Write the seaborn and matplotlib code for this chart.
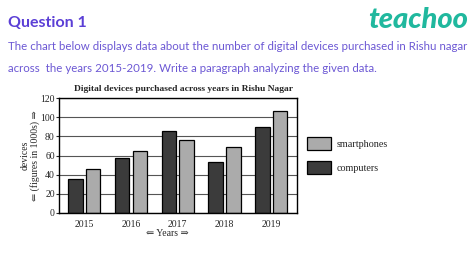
import numpy as np
import pandas as pd
import matplotlib.pyplot as plt
import seaborn as sns

# --- Data (in 1000s) ---
YEARS = ["2015", "2016", "2017", "2018", "2019"]
COMPUTERS = [36, 57, 86, 53, 90]
SMARTPHONES = [46, 65, 76, 69, 106]
Y_TICKS = [0, 20, 40, 60, 80, 100, 120]

df = pd.DataFrame({
    "year": YEARS * 2,
    "devices": COMPUTERS + SMARTPHONES,
    "device": ["computers"] * len(YEARS) + ["smartphones"] * len(YEARS),
})

sns.set_style("white")
SERIF = ["Liberation Serif", "DejaVu Serif"]
plt.rcParams["font.family"] = SERIF

fig = plt.figure(figsize=(4.74, 2.66), dpi=100)
fig.patch.set_facecolor("white")

# --- Header text ---
fig.text(8 / 474, 1 - 27 / 266, "Question 1", family="Lato", weight="bold",
         fontsize=11.5, color="#5b3fd6", va="baseline", ha="left")
fig.text(468 / 474, 1 - 28 / 266, "teachoo", family="Lato", weight="black",
         style="italic", fontsize=21, color="#20b89e", va="baseline", ha="right")
body_color = "#6c58d4"
fig.text(8 / 474, 1 - 49.5 / 266,
         "The chart below displays data about the number of digital devices purchased in Rishu nagar",
         family="Lato", fontsize=8.25, color=body_color, va="baseline", ha="left")
fig.text(8 / 474, 1 - 71.5 / 266,
         "across  the years 2015-2019. Write a paragraph analyzing the given data.",
         family="Lato", fontsize=8.25, color=body_color, va="baseline", ha="left")

# --- Chart ---
ax = fig.add_axes([59 / 474, 1 - 213 / 266, 238 / 474, 115 / 266])
sns.barplot(
    data=df, x="year", y="devices", hue="device",
    hue_order=["computers", "smartphones"],
    palette=["#3b3b3b", "#ababab"],
    width=0.76, gap=0.18, edgecolor="black", linewidth=0.9,
    ax=ax,
)

ax.set_xlim(-0.54, 4.55)
ax.set_ylim(0, 120)
ax.set_yticks(Y_TICKS)
ax.yaxis.grid(True, color="#555555", linewidth=0.8)
ax.set_axisbelow(True)
for s in ax.spines.values():
    s.set_color("black")
    s.set_linewidth(1.0)
ax.tick_params(axis="y", labelsize=7, length=2, width=0.8, pad=1, left=True)
ax.tick_params(axis="x", labelsize=7, length=0, pad=5)

ax.set_xlabel("")
ax.set_ylabel("devices\n⇐ (figures in 1000s) ⇒", fontsize=7, labelpad=0,
              linespacing=1.1)
fig.text(167 / 474, 1 - 233 / 266, "⇐ Years ⇒", fontsize=7, ha="center", va="center")

ax.set_title("Digital devices purchased across years in Rishu Nagar",
             fontsize=6.8, weight="bold", pad=5, x=0.525)

# legend: smartphones above computers, outside the axes
handles, labels = ax.get_legend_handles_labels()
ax.legend(handles[::-1], labels[::-1], loc="upper left",
          bbox_to_anchor=(307 / 474, 1 - 137 / 266), bbox_transform=fig.transFigure,
          frameon=False, fontsize=7.3, handlelength=2.4, handleheight=1.6,
          labelspacing=1.1, handletextpad=0.5, borderpad=0, borderaxespad=0)

plt.savefig("out.png", dpi=100)
plt.close()
